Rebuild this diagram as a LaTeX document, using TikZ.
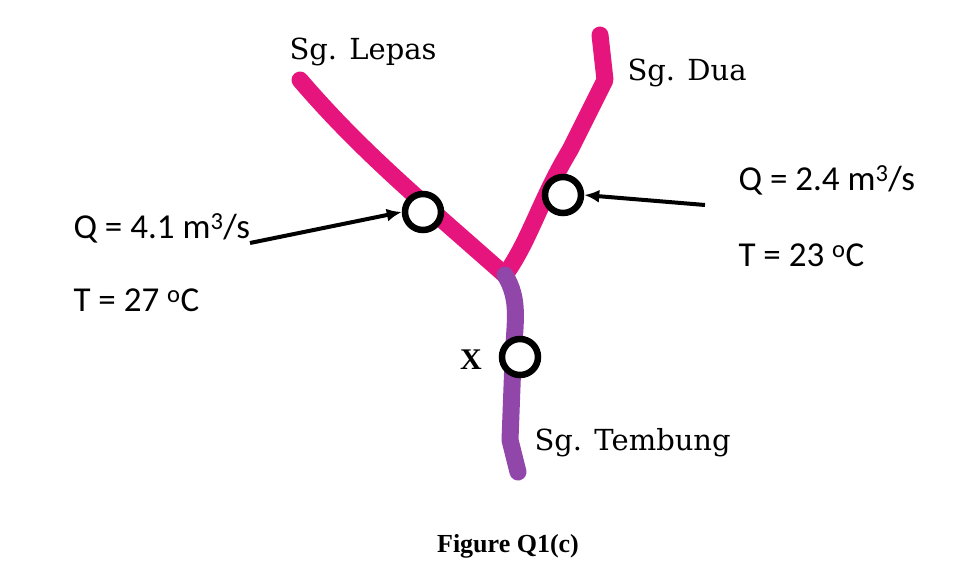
\documentclass[tikz,border=0pt]{standalone}
\usepackage{fontspec}
\usetikzlibrary{arrows.meta}
\setmainfont{Liberation Serif}
\newfontfamily\labfont{DejaVu Serif}
\newfontfamily\carlitofont{Carlito}
\begin{document}
\begin{tikzpicture}[x=1pt,y=-1pt,
  river/.style={line width=17pt,line cap=round,line join=round},
  gauge/.style={circle,draw=black,line width=6.5pt,fill=white,minimum size=36pt,inner sep=0pt},
  lab/.style={font=\labfont\fontsize{29}{31}\selectfont},
  qlab/.style={font=\carlitofont\fontsize{35}{38}\selectfont},
  arr/.style={line width=4pt,-{Latex[length=15pt,width=13pt]}}]
\useasboundingbox (0,0) rectangle (969,577);
\coordinate (j) at (505,275);
\draw[river,draw={rgb,255:red,230;green,20;blue,125}] (300,80) .. controls (360,150) and (420,200) .. (j);
\draw[river,draw={rgb,255:red,230;green,20;blue,125}] (600,35) -- (605,80) .. controls (595,100) and (590,110) .. (570,150) .. controls (540,200) and (530,240) .. (j);
\draw[river,draw={rgb,255:red,145;green,70;blue,170}] (j) .. controls (520,300) and (515,320) .. (513,360) -- (510,440) -- (518,472);
\node[gauge] (g1) at (423,212) {};
\node[gauge] (g2) at (563,195) {};
\node[gauge] (g3) at (520,357) {};
\coordinate (a1) at (250,243);
\coordinate (a2) at (705,205);
\draw[arr] (a1) -- (g1.west);
\draw[arr] (a2) -- (g2.east);
\node[lab,anchor=west] (l1) at (286,52) {Sg. Lepas};
\node[lab,anchor=west] (l2) at (624,73) {Sg. Dua};
\node[lab,anchor=west] (l3) at (531,443) {Sg. Tembung};
\node[font=\bfseries\fontsize{30}{32}\selectfont] (x) at (471,360) {X};
\node[qlab,anchor=west] (q1) at (70,228) {Q = 4.1 m\textsuperscript{3}/s};
\node[qlab,anchor=west] (t1) at (70,300) {T = 27 \textsuperscript{o}C};
\node[qlab,anchor=west] (q2) at (735,180) {Q = 2.4 m\textsuperscript{3}/s};
\node[qlab,anchor=west] (t2) at (735,255) {T = 23 \textsuperscript{o}C};
\node[font=\bfseries\fontsize{26}{28}\selectfont] (cap) at (508,546) {Figure Q1(c)};
\end{tikzpicture}
\end{document}
